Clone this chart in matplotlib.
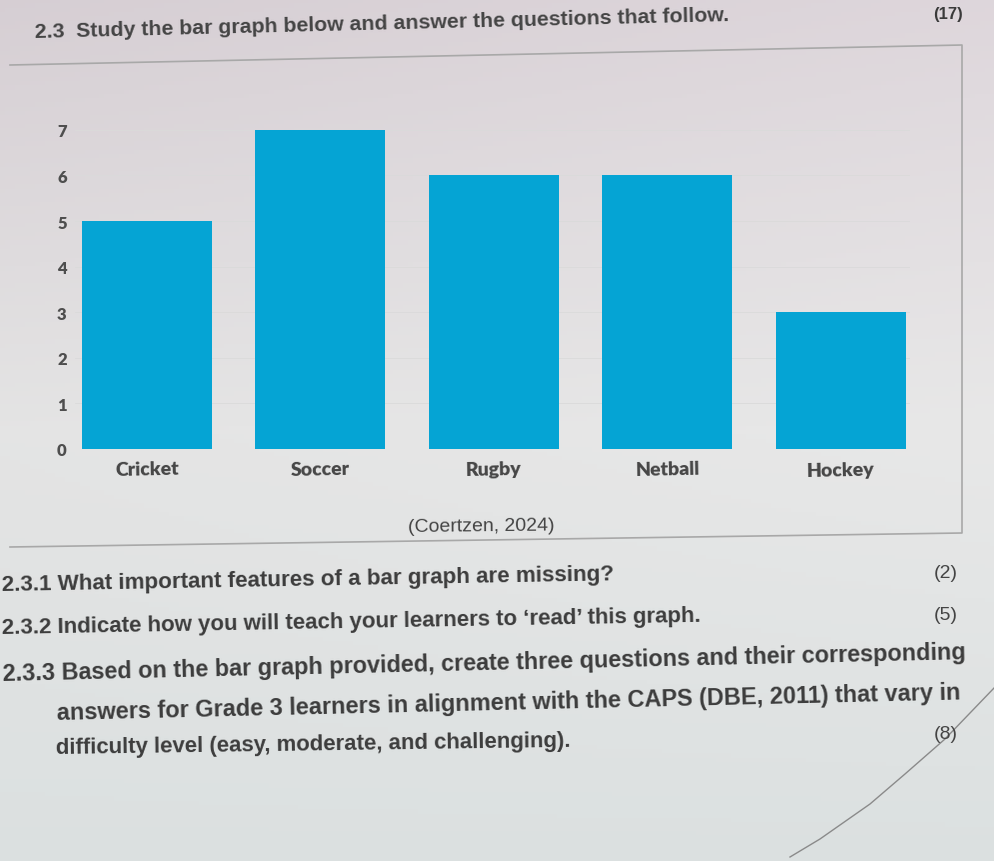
import matplotlib
matplotlib.use("Agg")
import matplotlib.pyplot as plt
import numpy as np
from matplotlib.lines import Line2D

# ---- data ----
sports = ["Cricket", "Soccer", "Rugby", "Netball", "Hockey"]
counts = [5, 7, 6, 6, 3]
y_ticks = [0, 1, 2, 3, 4, 5, 6, 7]

header = "2.3  Study the bar graph below and answer the questions that follow."
header_marks = "(17)"
source = "(Coertzen, 2024)"
questions = [
    ("2.3.1 What important features of a bar graph are missing?", "(2)"),
    ("2.3.2 Indicate how you will teach your learners to \u2018read\u2019 this graph.", "(5)"),
]
q3_lines = [
    "2.3.3 Based on the bar graph provided, create three questions and their corresponding",
    "answers for Grade 3 learners in alignment with the CAPS (DBE, 2011) that vary in",
    "difficulty level (easy, moderate, and challenging).",
]
q3_marks = "(8)"

W, H = 995, 862
fig = plt.figure(figsize=(W / 100, H / 100), dpi=100)

def fx(x):
    return x / W

def fy(y):
    return 1 - y / H

# ---- paper background gradient ----
bg = fig.add_axes([0, 0, 1, 1], zorder=-10)
yy, xx = np.mgrid[0:1:200j, 0:1:200j]
top = np.array([0.87, 0.84, 0.86])
mid = np.array([0.91, 0.91, 0.91])
bot = np.array([0.86, 0.88, 0.88])
t = yy[..., None]
img = np.where(t < 0.5, top + (mid - top) * (t / 0.5), mid + (bot - mid) * ((t - 0.5) / 0.5))
img = img - 0.03 * (1 - xx[..., None]) * (1 - t)
bg.imshow(np.clip(img, 0, 1), extent=[0, 1, 0, 1], aspect="auto", origin="upper")
bg.set_axis_off()

# chart frame (photographed, slightly tilted)
frame = Line2D([fx(10), fx(962), fx(962), fx(10)],
               [fy(66), fy(46), fy(534), fy(548)],
               transform=fig.transFigure, color="#a8a8a8", lw=1.2)
fig.add_artist(frame)

# ---- bar chart ----
ax_left, ax_right = 75, 910
y0_px, ylim_top = 450, 7.6
px_per_unit = 45.6
ax_top = y0_px - ylim_top * px_per_unit
ax = fig.add_axes([fx(ax_left), fy(y0_px), fx(ax_right - ax_left), (y0_px - ax_top) / H])
ax.patch.set_alpha(0)
x = np.arange(len(sports))
ax.bar(x, counts, width=0.75, color="#05a4d4", zorder=3)
ax.set_xlim(-0.415, 4.40)
ax.set_ylim(0, ylim_top)
ax.set_yticks(y_ticks)
ax.set_yticklabels([str(v) for v in y_ticks])
ax.set_xticks(x)
ax.set_xticklabels(sports)
for s in ax.spines.values():
    s.set_visible(False)
ax.tick_params(axis="both", length=0)
ax.tick_params(axis="y", pad=6)
ax.tick_params(axis="x", pad=8)
for lab in ax.get_yticklabels():
    lab.set_fontfamily(["Lato", "DejaVu Sans"])
    lab.set_fontweight("heavy")
    lab.set_fontsize(12)
    lab.set_color("#4e4e4e")
for lab in ax.get_xticklabels():
    lab.set_fontfamily(["Lato", "DejaVu Sans"])
    lab.set_fontweight("heavy")
    lab.set_fontsize(14)
    lab.set_color("#464646")
    lab.set_rotation(1.2)
ax.grid(axis="y", color="#dadada", lw=0.6, zorder=0)

# ---- texts ----
renderer = fig.canvas.get_renderer()
narrow = ["Liberation Sans Narrow", "Liberation Sans", "DejaVu Sans"]

def fit_text(xp, yp, s, width_px, size=14, **kw):
    tx = fig.text(fx(xp), fy(yp), s, fontsize=size, **kw)
    for _ in range(3):
        bb = tx.get_window_extent(renderer)
        if bb.width > 0:
            tx.set_fontsize(tx.get_fontsize() * width_px / bb.width)
    return tx

fit_text(35, 24, header, 695, family=narrow, weight="bold", color="#444444",
         va="center", rotation=1.4)
fig.text(fx(948), fy(15), header_marks, fontsize=12, family=narrow, weight="bold",
         color="#3a3a3a", ha="center", va="center")

fig.text(fx(481), fy(527), source, fontsize=14, family=["Liberation Sans", "DejaVu Sans"],
         color="#444444", ha="center", va="center", rotation=0.6)

q_y = [580, 622]
q_w = [610, 700]
for (q, m), yq, wq in zip(questions, q_y, q_w):
    fit_text(2, yq, q, wq, family=narrow, weight="bold", color="#3c3c3c", va="center",
             rotation=1.0)
    fig.text(fx(946), fy(yq - 6), m, fontsize=14, family=narrow, color="#444444",
             ha="center", va="center")

fit_text(2, 664, q3_lines[0], 958, family=narrow, weight="bold", color="#3c3c3c",
         va="center", rotation=1.3)
fit_text(56, 703, q3_lines[1], 905, family=narrow, weight="bold", color="#3c3c3c",
         va="center", rotation=1.3)
fit_text(56, 745, q3_lines[2], 515, family=narrow, weight="bold", color="#3c3c3c",
         va="center", rotation=0.8)
fig.text(fx(946), fy(735), q3_marks, fontsize=14, family=narrow, color="#444444",
         ha="center", va="center")

# pen stroke across the page
pen = Line2D([fx(995), fx(945), fx(905), fx(870), fx(820), fx(790)],
             [fy(688), fy(740), fy(775), fy(805), fy(840), fy(858)],
             transform=fig.transFigure, color="#8a8a8a", lw=1.0)
fig.add_artist(pen)

fig.savefig("out.png", dpi=100)
